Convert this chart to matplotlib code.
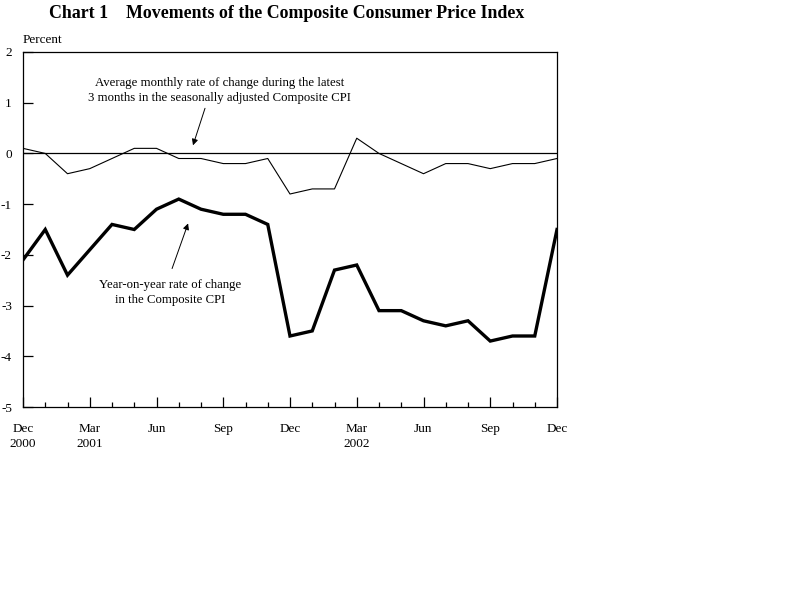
import numpy as np
import matplotlib
matplotlib.use("Agg")
from matplotlib import pyplot as plt

# monthly points, Dec 2000 .. Dec 2002
months = ["Dec", "Jan", "Feb", "Mar", "Apr", "May", "Jun", "Jul", "Aug", "Sep", "Oct", "Nov",
          "Dec", "Jan", "Feb", "Mar", "Apr", "May", "Jun", "Jul", "Aug", "Sep", "Oct", "Nov", "Dec"]
yoy_change = [-2.1, -1.5, -2.4, -1.9, -1.4, -1.5, -1.1, -0.9, -1.1, -1.2, -1.2, -1.4,
              -3.6, -3.5, -2.3, -2.2, -3.1, -3.1, -3.3, -3.4, -3.3, -3.7, -3.6, -3.6, -1.5]
avg_3m_sa = [0.1, 0.0, -0.4, -0.3, -0.1, 0.1, 0.1, -0.1, -0.1, -0.2, -0.2, -0.1,
             -0.8, -0.7, -0.7, 0.3, 0.0, -0.2, -0.4, -0.2, -0.2, -0.3, -0.2, -0.2, -0.1]
tick_pos = [0, 3, 6, 9, 12, 15, 18, 21, 24]
tick_labels = ["Dec\n2000", "Mar\n2001", "Jun", "Sep", "Dec", "Mar\n2002", "Jun", "Sep", "Dec"]
y_ticks = [-5, -4, -3, -2, -1, 0, 1, 2]

plt.rcParams['font.family'] = ['Liberation Serif', 'DejaVu Serif']
plt.rcParams['font.size'] = 9

fig = plt.figure(figsize=(8, 6), dpi=100)
ax = fig.add_axes([23 / 800, 1 - 407 / 600, 534 / 800, 355 / 600])

x = np.arange(len(months))
ax.axhline(0, color="black", lw=0.9)
ax.plot(x, avg_3m_sa, color="black", lw=0.8)
ax.plot(x, yoy_change, color="black", lw=2.4, solid_joinstyle="miter")

ax.set_xlim(0, 24)
ax.set_ylim(-5, 2)
ax.set_yticks(y_ticks)
ax.set_yticklabels([str(v) for v in y_ticks])
ax.set_xticks(tick_pos)
ax.set_xticklabels(tick_labels, linespacing=1.3)
ax.set_xticks(x, minor=True)
ax.tick_params(axis="both", which="major", direction="in", length=7, width=0.9, labelsize=9.5)
ax.tick_params(axis="x", which="minor", direction="in", length=3.5, width=0.9)
ax.tick_params(axis="x", pad=11.5)
ax.tick_params(axis="y", pad=8)
ax.tick_params(axis="y", which="minor", left=False)
for sp in ax.spines.values():
    sp.set_linewidth(0.9)

fig.text(287 / 800, 1 - 14 / 600, "Chart 1    Movements of the Composite Consumer Price Index",
         ha="center", va="center", fontsize=12.9, fontweight="bold")
fig.text(23 / 800, 1 - 40 / 600, "Percent", ha="left", va="center", fontsize=9.5)

arrow = dict(arrowstyle="-|>", color="black", lw=0.7, shrinkA=0, shrinkB=0, mutation_scale=9)

ax.text(8.85, 1.24, "Average monthly rate of change during the latest\n3 months in the seasonally adjusted Composite CPI",
        ha="center", va="center", fontsize=9.2, linespacing=1.4)
ax.annotate("", xy=(7.64, 0.16), xytext=(8.18, 0.89), arrowprops=arrow)

ax.text(6.6, -2.74, "Year-on-year rate of change\nin the Composite CPI",
        ha="center", va="center", fontsize=9.2, linespacing=1.4)
ax.annotate("", xy=(7.42, -1.38), xytext=(6.7, -2.27), arrowprops=arrow)

fig.savefig("out.png", dpi=100)
